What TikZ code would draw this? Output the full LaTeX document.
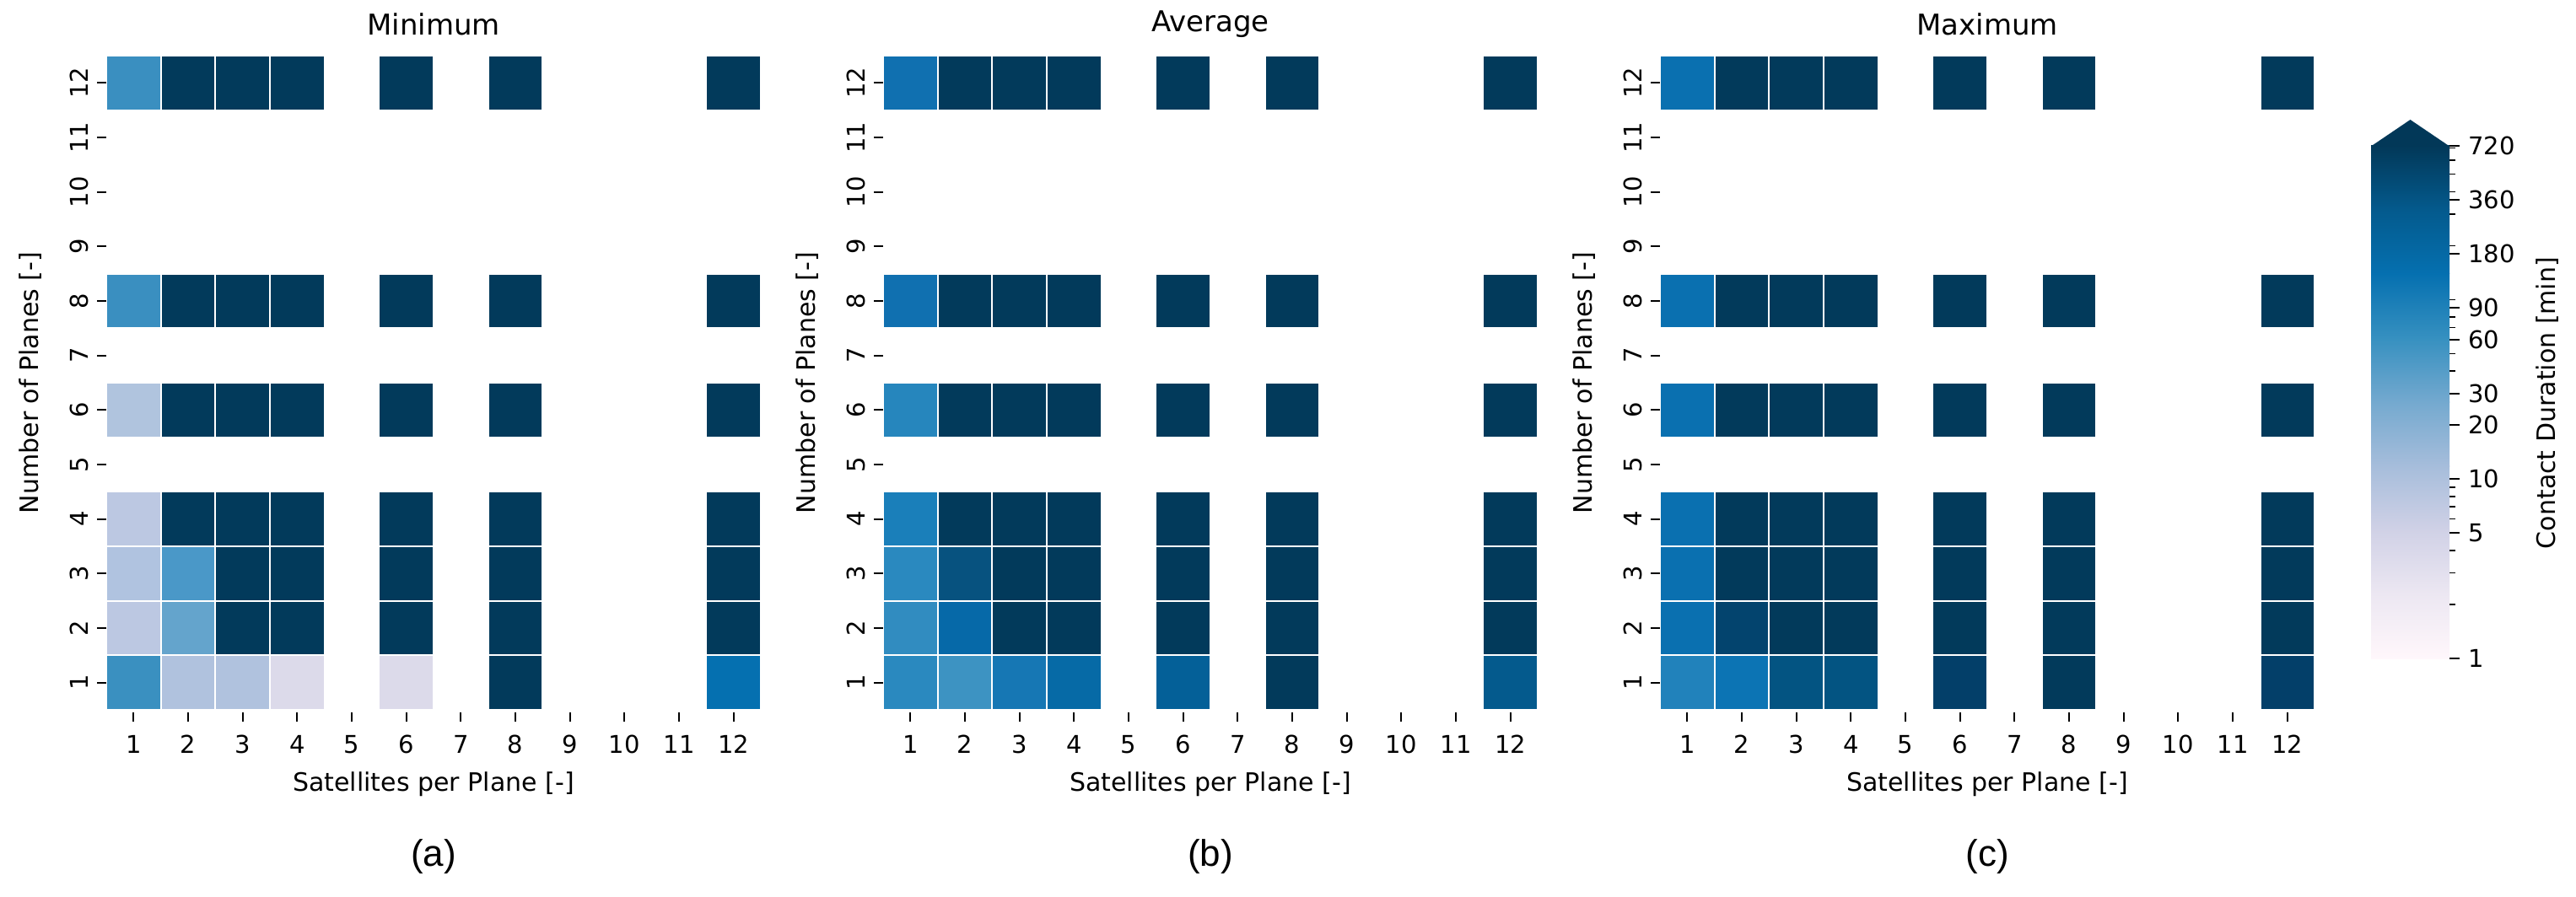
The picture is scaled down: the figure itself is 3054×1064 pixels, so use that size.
\documentclass[tikz,border=0pt]{standalone}
\usepackage{fontspec}
\setmainfont{DejaVu Sans}
\newfontfamily\arialf{Liberation Sans}
\definecolor{dk}{HTML}{023A5B}
\definecolor{pA}{HTML}{FFF7FB}\definecolor{pB}{HTML}{ECE7F2}\definecolor{pC}{HTML}{D0D1E6}
\definecolor{pD}{HTML}{A6BDDB}\definecolor{pE}{HTML}{74A9CF}\definecolor{pF}{HTML}{3690C0}
\definecolor{pG}{HTML}{0570B0}\definecolor{pH}{HTML}{045A8D}\definecolor{pI}{HTML}{023858}
\begin{document}
\begin{tikzpicture}[x=1pt,y=-1pt,
  cellbox/.style={fill=#1,draw=white,line width=2.2pt},
  ticklab/.style={font=\fontsize{29}{30}\selectfont,inner sep=0pt},
  axlab/.style={font=\fontsize{30}{32}\selectfont,inner sep=0pt},
  ttl/.style={font=\fontsize{34}{36}\selectfont,inner sep=0pt},
  tickln/.style={line width=2pt}]
\useasboundingbox (0,0) rectangle (3054,1064);
\def\cs{64.67}
\newcommand\cellat[4]{% x0, col, row, color
  \pgfmathsetmacro\cx{#1+(#2-1)*\cs}\pgfmathsetmacro\cy{66+(12-#3)*\cs}
  \path[cellbox=#4] (\cx,\cy) rectangle ++(\cs,\cs);}
\newcommand\panelaxes[4]{% x0, title, sub, name
  \pgfmathsetmacro\pc{#1+6*\cs}
  \node[ttl] (#4t) at (\pc,29) {#2};
  \foreach \i in {1,...,12}{
    \pgfmathsetmacro\tx{#1+(\i-0.5)*\cs}\pgfmathsetmacro\ty{66+(12.5-\i)*\cs}
    \draw[tickln] (\tx,845) -- (\tx,856);
    \node[ticklab] at (\tx,883) {\i};
    \draw[tickln] (#1-11,\ty) -- (#1,\ty);
    \node[ticklab,rotate=90] at (#1-32,\ty) {\i};}
  \node[axlab] (#4x) at (\pc,930) {Satellites per Plane [-]};
  \node[axlab,rotate=90] (#4y) at (#1-90,454) {Number of Planes [-]};
  \node[font=\arialf\fontsize{44}{46}\selectfont,inner sep=0pt] (#4s) at (\pc,1016) {#3};}
% dark columns common to all panels
\foreach \X in {126,1047,1968}{
  \foreach \r in {12,8,6,4,3,2}{\foreach \c in {2,3,4,6,8,12}{\cellat{\X}{\c}{\r}{dk}}}
  \cellat{\X}{8}{1}{dk}}
% panel a
\definecolor{a12}{HTML}{3A8FC0}\definecolor{a6}{HTML}{B0C4DE}\definecolor{a4}{HTML}{BCC8E2}
\definecolor{a3}{HTML}{B0C3E0}\definecolor{a32}{HTML}{4A98C8}\definecolor{a22}{HTML}{64A4CC}
\definecolor{a11}{HTML}{3A90C0}\definecolor{a1l}{HTML}{B0C2DE}\definecolor{a1v}{HTML}{DCDAEA}
\cellat{126}{1}{12}{a12}\cellat{126}{1}{8}{a12}\cellat{126}{1}{6}{a6}
\cellat{126}{1}{4}{a4}\cellat{126}{1}{3}{a3}\cellat{126}{2}{3}{a32}
\cellat{126}{1}{2}{a4}\cellat{126}{2}{2}{a22}
\cellat{126}{1}{1}{a11}\cellat{126}{2}{1}{a1l}\cellat{126}{3}{1}{a1l}\cellat{126}{4}{1}{a1v}
\cellat{126}{6}{1}{a1v}\cellat{126}{12}{1}{pG}
% panel b
\definecolor{b1}{HTML}{1070B0}\definecolor{b6}{HTML}{2686BD}\definecolor{b4}{HTML}{1A7FBA}
\definecolor{b3}{HTML}{2A89BF}\definecolor{b32}{HTML}{07527F}\definecolor{b2}{HTML}{318CC0}
\definecolor{b22}{HTML}{0669A8}\definecolor{b12}{HTML}{3D93C2}\definecolor{b13}{HTML}{1677B4}
\definecolor{b14}{HTML}{066AA6}\definecolor{b16}{HTML}{046098}\definecolor{b1c}{HTML}{045A8D}
\cellat{1047}{1}{12}{b1}\cellat{1047}{1}{8}{b1}\cellat{1047}{1}{6}{b6}\cellat{1047}{1}{4}{b4}
\cellat{1047}{1}{3}{b3}\cellat{1047}{2}{3}{b32}\cellat{1047}{1}{2}{b2}\cellat{1047}{2}{2}{b22}
\cellat{1047}{1}{1}{b3}\cellat{1047}{2}{1}{b12}\cellat{1047}{3}{1}{b13}\cellat{1047}{4}{1}{b14}
\cellat{1047}{6}{1}{b16}\cellat{1047}{12}{1}{b1c}
% panel c
\definecolor{c1}{HTML}{0A70B0}\definecolor{c22}{HTML}{03446E}\definecolor{c11}{HTML}{2182BB}
\definecolor{c12}{HTML}{0C74B4}\definecolor{c13}{HTML}{035482}\definecolor{c16}{HTML}{033F69}
\foreach \r in {12,8,6,4,3,2}{\cellat{1968}{1}{\r}{c1}}
\cellat{1968}{2}{2}{c22}\cellat{1968}{1}{1}{c11}\cellat{1968}{2}{1}{c12}\cellat{1968}{3}{1}{c13}
\cellat{1968}{4}{1}{c13}\cellat{1968}{6}{1}{c16}\cellat{1968}{12}{1}{c16}
\panelaxes{126}{Minimum}{(a)}{pa}
\panelaxes{1047}{Average}{(b)}{pb}
\panelaxes{1968}{Maximum}{(c)}{pc}
% colorbar
\def\segs{pA/pB,pB/pC,pC/pD,pD/pE,pE/pF,pF/pG,pG/pH,pH/pI}
\foreach \lo/\hi [count=\k] in \segs{
  \pgfmathsetmacro\yb{781-(\k-1)*76}\pgfmathsetmacro\yt{\yb-76.6}
  \shade[bottom color=\lo,top color=\hi] (2811,\yb) rectangle (2904,\yt);}
\fill[pI] (2811,173.5) -- (2857.5,142) -- (2904,173.5) -- cycle;
\foreach \v in {1,5,10,20,30,60,90,180,360,720}{
  \pgfmathsetmacro\yy{781-212.8*log10(\v)}
  \draw[tickln] (2904,\yy) -- (2916,\yy);
  \node[ticklab,anchor=west] at (2926,\yy) {\v};}
\foreach \v in {2,3,4,6,7,8,9,40,50,70,80,100,200,300,400,500,600,700}{
  \pgfmathsetmacro\yy{781-212.8*log10(\v)}
  \draw[line width=1.5pt] (2904,\yy) -- (2911,\yy);}
\node[axlab,rotate=90] (cbl) at (3020,478) {Contact Duration [min]};
\end{tikzpicture}
\end{document}
